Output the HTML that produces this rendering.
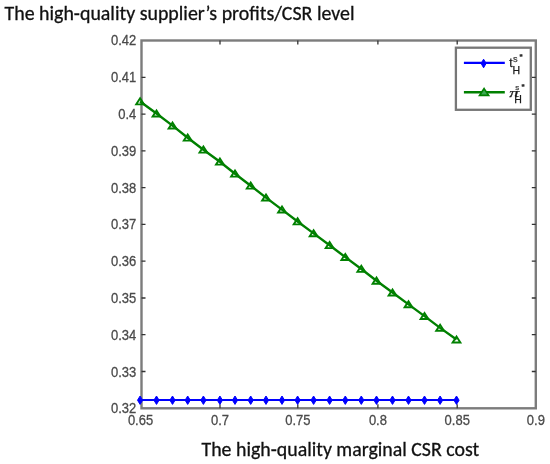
<!DOCTYPE html><html><head><meta charset="utf-8"><style>html,body{margin:0;padding:0;background:#fff;}svg{display:block;}</style></head><body>
<svg width="550" height="464" viewBox="0 0 550 464">
<rect x="0" y="0" width="550" height="464" fill="#fff"/>
<text x="4.5" y="19.6" font-family="Carlito, 'Liberation Sans', sans-serif" font-size="20.3" fill="#111" stroke="#111" stroke-width="0.3" textLength="350" lengthAdjust="spacingAndGlyphs">The high-quality supplier’s profits/CSR level</text>
<text x="201.5" y="455.5" font-family="Carlito, 'Liberation Sans', sans-serif" font-size="20.3" fill="#111" stroke="#111" stroke-width="0.3" textLength="277.6" lengthAdjust="spacingAndGlyphs">The high-quality marginal CSR cost</text>
<rect x="141.5" y="40.5" width="394.3" height="367.8" fill="none" stroke="#7c7c7c" stroke-width="2.4"/>
<path d="M220.0 408.3v-4M220.0 40.5v4M297.8 408.3v-4M297.8 40.5v4M377.9 408.3v-4M377.9 40.5v4M457.2 408.3v-4M457.2 40.5v4M141.5 371.5h4M535.8 371.5h-4M141.5 334.7h4M535.8 334.7h-4M141.5 298.0h4M535.8 298.0h-4M141.5 261.2h4M535.8 261.2h-4M141.5 224.4h4M535.8 224.4h-4M141.5 187.6h4M535.8 187.6h-4M141.5 150.8h4M535.8 150.8h-4M141.5 114.1h4M535.8 114.1h-4M141.5 77.3h4M535.8 77.3h-4" stroke="#333" stroke-width="1.3" fill="none"/>
<g font-family="'Liberation Sans', Arial, sans-serif" font-size="15.2" fill="#4a4a4a" stroke="#4a4a4a" stroke-width="0.3" lengthAdjust="spacingAndGlyphs">
<text x="111.0" y="413.2" textLength="25.30" lengthAdjust="spacingAndGlyphs">0.32</text>
<text x="111.0" y="376.5" textLength="25.30" lengthAdjust="spacingAndGlyphs">0.33</text>
<text x="111.0" y="339.7" textLength="25.30" lengthAdjust="spacingAndGlyphs">0.34</text>
<text x="111.0" y="302.9" textLength="25.30" lengthAdjust="spacingAndGlyphs">0.35</text>
<text x="111.0" y="266.1" textLength="25.30" lengthAdjust="spacingAndGlyphs">0.36</text>
<text x="111.0" y="229.3" textLength="25.30" lengthAdjust="spacingAndGlyphs">0.37</text>
<text x="111.0" y="192.6" textLength="25.30" lengthAdjust="spacingAndGlyphs">0.38</text>
<text x="111.0" y="155.8" textLength="25.30" lengthAdjust="spacingAndGlyphs">0.39</text>
<text x="118.2" y="119.0" textLength="18.07" lengthAdjust="spacingAndGlyphs">0.4</text>
<text x="111.0" y="82.2" textLength="25.30" lengthAdjust="spacingAndGlyphs">0.41</text>
<text x="111.0" y="45.4" textLength="25.30" lengthAdjust="spacingAndGlyphs">0.42</text>
<text x="127.9" y="425.2" textLength="25.30" lengthAdjust="spacingAndGlyphs">0.65</text>
<text x="211.0" y="425.2" textLength="18.07" lengthAdjust="spacingAndGlyphs">0.7</text>
<text x="285.2" y="425.2" textLength="25.30" lengthAdjust="spacingAndGlyphs">0.75</text>
<text x="368.9" y="425.2" textLength="18.07" lengthAdjust="spacingAndGlyphs">0.8</text>
<text x="444.6" y="425.2" textLength="25.30" lengthAdjust="spacingAndGlyphs">0.85</text>
<text x="526.8" y="425.2" textLength="18.07" lengthAdjust="spacingAndGlyphs">0.9</text>
</g>
<polyline points="140.10,400.00 156.50,400.00 172.50,400.00 187.70,400.00 203.40,400.00 219.90,400.00 235.00,400.00 250.70,400.00 266.00,400.00 282.00,400.00 297.60,400.00 313.60,400.00 329.60,400.00 345.30,400.00 361.30,400.00 376.50,400.00 392.50,400.00 408.50,400.00 424.50,400.00 440.10,400.00 456.50,400.00" fill="none" stroke="#0000ff" stroke-width="2.2"/>
<path d="M140.10 396.00L142.70 400.20L140.10 404.40L137.50 400.20Z" fill="#0000ff" stroke="#0000ff" stroke-width="1"/>
<path d="M156.50 396.00L159.10 400.20L156.50 404.40L153.90 400.20Z" fill="#0000ff" stroke="#0000ff" stroke-width="1"/>
<path d="M172.50 396.00L175.10 400.20L172.50 404.40L169.90 400.20Z" fill="#0000ff" stroke="#0000ff" stroke-width="1"/>
<path d="M187.70 396.00L190.30 400.20L187.70 404.40L185.10 400.20Z" fill="#0000ff" stroke="#0000ff" stroke-width="1"/>
<path d="M203.40 396.00L206.00 400.20L203.40 404.40L200.80 400.20Z" fill="#0000ff" stroke="#0000ff" stroke-width="1"/>
<path d="M219.90 396.00L222.50 400.20L219.90 404.40L217.30 400.20Z" fill="#0000ff" stroke="#0000ff" stroke-width="1"/>
<path d="M235.00 396.00L237.60 400.20L235.00 404.40L232.40 400.20Z" fill="#0000ff" stroke="#0000ff" stroke-width="1"/>
<path d="M250.70 396.00L253.30 400.20L250.70 404.40L248.10 400.20Z" fill="#0000ff" stroke="#0000ff" stroke-width="1"/>
<path d="M266.00 396.00L268.60 400.20L266.00 404.40L263.40 400.20Z" fill="#0000ff" stroke="#0000ff" stroke-width="1"/>
<path d="M282.00 396.00L284.60 400.20L282.00 404.40L279.40 400.20Z" fill="#0000ff" stroke="#0000ff" stroke-width="1"/>
<path d="M297.60 396.00L300.20 400.20L297.60 404.40L295.00 400.20Z" fill="#0000ff" stroke="#0000ff" stroke-width="1"/>
<path d="M313.60 396.00L316.20 400.20L313.60 404.40L311.00 400.20Z" fill="#0000ff" stroke="#0000ff" stroke-width="1"/>
<path d="M329.60 396.00L332.20 400.20L329.60 404.40L327.00 400.20Z" fill="#0000ff" stroke="#0000ff" stroke-width="1"/>
<path d="M345.30 396.00L347.90 400.20L345.30 404.40L342.70 400.20Z" fill="#0000ff" stroke="#0000ff" stroke-width="1"/>
<path d="M361.30 396.00L363.90 400.20L361.30 404.40L358.70 400.20Z" fill="#0000ff" stroke="#0000ff" stroke-width="1"/>
<path d="M376.50 396.00L379.10 400.20L376.50 404.40L373.90 400.20Z" fill="#0000ff" stroke="#0000ff" stroke-width="1"/>
<path d="M392.50 396.00L395.10 400.20L392.50 404.40L389.90 400.20Z" fill="#0000ff" stroke="#0000ff" stroke-width="1"/>
<path d="M408.50 396.00L411.10 400.20L408.50 404.40L405.90 400.20Z" fill="#0000ff" stroke="#0000ff" stroke-width="1"/>
<path d="M424.50 396.00L427.10 400.20L424.50 404.40L421.90 400.20Z" fill="#0000ff" stroke="#0000ff" stroke-width="1"/>
<path d="M440.10 396.00L442.70 400.20L440.10 404.40L437.50 400.20Z" fill="#0000ff" stroke="#0000ff" stroke-width="1"/>
<path d="M456.50 396.00L459.10 400.20L456.50 404.40L453.90 400.20Z" fill="#0000ff" stroke="#0000ff" stroke-width="1"/>
<polyline points="140.10,101.50 156.50,113.59 172.50,125.65 187.70,137.70 203.40,149.73 219.90,161.74 235.00,173.73 250.70,185.70 266.00,197.65 282.00,209.59 297.60,221.50 313.60,233.40 329.60,245.27 345.30,257.13 361.30,268.97 376.50,280.79 392.50,292.59 408.50,304.37 424.50,316.13 440.10,327.88 456.50,339.60" fill="none" stroke="#008000" stroke-width="2.4"/>
<path d="M140.10 98.30L144.00 104.40L136.20 104.40Z" fill="none" stroke="#008000" stroke-width="1.9" stroke-linejoin="miter"/>
<path d="M156.50 110.39L160.40 116.49L152.60 116.49Z" fill="none" stroke="#008000" stroke-width="1.9" stroke-linejoin="miter"/>
<path d="M172.50 122.45L176.40 128.55L168.60 128.55Z" fill="none" stroke="#008000" stroke-width="1.9" stroke-linejoin="miter"/>
<path d="M187.70 134.50L191.60 140.60L183.80 140.60Z" fill="none" stroke="#008000" stroke-width="1.9" stroke-linejoin="miter"/>
<path d="M203.40 146.53L207.30 152.63L199.50 152.63Z" fill="none" stroke="#008000" stroke-width="1.9" stroke-linejoin="miter"/>
<path d="M219.90 158.54L223.80 164.64L216.00 164.64Z" fill="none" stroke="#008000" stroke-width="1.9" stroke-linejoin="miter"/>
<path d="M235.00 170.53L238.90 176.63L231.10 176.63Z" fill="none" stroke="#008000" stroke-width="1.9" stroke-linejoin="miter"/>
<path d="M250.70 182.50L254.60 188.60L246.80 188.60Z" fill="none" stroke="#008000" stroke-width="1.9" stroke-linejoin="miter"/>
<path d="M266.00 194.45L269.90 200.55L262.10 200.55Z" fill="none" stroke="#008000" stroke-width="1.9" stroke-linejoin="miter"/>
<path d="M282.00 206.39L285.90 212.49L278.10 212.49Z" fill="none" stroke="#008000" stroke-width="1.9" stroke-linejoin="miter"/>
<path d="M297.60 218.30L301.50 224.40L293.70 224.40Z" fill="none" stroke="#008000" stroke-width="1.9" stroke-linejoin="miter"/>
<path d="M313.60 230.20L317.50 236.30L309.70 236.30Z" fill="none" stroke="#008000" stroke-width="1.9" stroke-linejoin="miter"/>
<path d="M329.60 242.07L333.50 248.17L325.70 248.17Z" fill="none" stroke="#008000" stroke-width="1.9" stroke-linejoin="miter"/>
<path d="M345.30 253.93L349.20 260.03L341.40 260.03Z" fill="none" stroke="#008000" stroke-width="1.9" stroke-linejoin="miter"/>
<path d="M361.30 265.77L365.20 271.87L357.40 271.87Z" fill="none" stroke="#008000" stroke-width="1.9" stroke-linejoin="miter"/>
<path d="M376.50 277.59L380.40 283.69L372.60 283.69Z" fill="none" stroke="#008000" stroke-width="1.9" stroke-linejoin="miter"/>
<path d="M392.50 289.39L396.40 295.49L388.60 295.49Z" fill="none" stroke="#008000" stroke-width="1.9" stroke-linejoin="miter"/>
<path d="M408.50 301.17L412.40 307.27L404.60 307.27Z" fill="none" stroke="#008000" stroke-width="1.9" stroke-linejoin="miter"/>
<path d="M424.50 312.93L428.40 319.03L420.60 319.03Z" fill="none" stroke="#008000" stroke-width="1.9" stroke-linejoin="miter"/>
<path d="M440.10 324.68L444.00 330.78L436.20 330.78Z" fill="none" stroke="#008000" stroke-width="1.9" stroke-linejoin="miter"/>
<path d="M456.50 336.40L460.40 342.50L452.60 342.50Z" fill="none" stroke="#008000" stroke-width="1.9" stroke-linejoin="miter"/>
<rect x="455.9" y="47.7" width="74.9" height="62.1" fill="#fff" stroke="#777" stroke-width="2.3"/>
<line x1="463.9" y1="62.9" x2="504.8" y2="62.9" stroke="#0000ff" stroke-width="2.2"/>
<path d="M483.6 59.2L486.1 63.4L483.6 67.8L481.1 63.4Z" fill="#0000ff" stroke="#0000ff" stroke-width="1"/>
<line x1="463.9" y1="92.2" x2="504.8" y2="92.2" stroke="#008000" stroke-width="2.4"/>
<path d="M484.1 88.6L488.6 95.3L479.6 95.3Z" fill="#3aa852" stroke="#008000" stroke-width="1.7"/>
<g font-family="'Liberation Sans', Arial, sans-serif" fill="#1a1a1a" stroke="#1a1a1a" stroke-width="0.25">
<text x="509.2" y="67.4" font-size="12">t</text>
<text x="513" y="62.4" font-size="9.2" fill="#444" stroke="#444">s</text>
<text x="519.5" y="59" font-size="8" font-weight="bold">*</text>
<text x="512.4" y="73.8" font-size="10.5">H</text>
<text x="509.2" y="96.8" font-size="13" font-family="'Liberation Serif', serif" font-style="italic" textLength="10" lengthAdjust="spacingAndGlyphs">π</text>
<text x="515.2" y="89.6" font-size="8" fill="#444" stroke="#444">s</text>
<text x="521.4" y="88.9" font-size="8" font-weight="bold">*</text>
<text x="514.2" y="103" font-size="10.5">H</text>
</g>
</svg></body></html>
